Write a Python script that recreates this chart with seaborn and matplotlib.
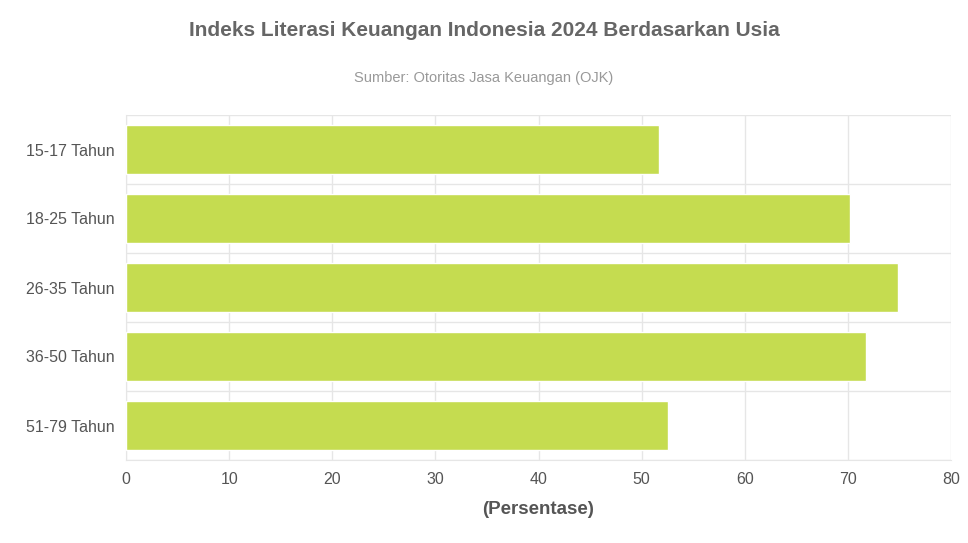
import matplotlib
matplotlib.use("Agg")
import matplotlib.pyplot as plt
import seaborn as sns
import pandas as pd

# data
kelompok_usia = ["15-17 Tahun", "18-25 Tahun", "26-35 Tahun", "36-50 Tahun", "51-79 Tahun"]
indeks = [51.70, 70.19, 74.82, 71.72, 52.51]

df = pd.DataFrame({"usia": kelompok_usia, "indeks": indeks})

sns.set_style("white")
plt.rcParams["font.family"] = ["Liberation Sans", "DejaVu Sans"]

fig = plt.figure(figsize=(9.68, 5.43), dpi=100)
ax = fig.add_axes([126 / 968, 1 - 460 / 543, (951 - 126) / 968, (460 - 115) / 543])

sns.barplot(data=df, x="indeks", y="usia", color="#c5dc50", saturation=1,
            width=0.7, ax=ax, zorder=3)

ax.set_xlim(0, 80)
ax.set_ylim(4.5, -0.5)
ax.set_xticks(range(0, 81, 10))
ax.set_yticks([i - 0.5 for i in range(6)], minor=True)
ax.grid(axis="x", color="#e6e6e6", linewidth=1, zorder=0)
ax.grid(axis="y", which="minor", color="#e6e6e6", linewidth=1, zorder=0)
ax.tick_params(axis="y", which="minor", length=0)
ax.tick_params(axis="both", which="major", labelsize=11.5, colors="#555555", length=5)
ax.tick_params(axis="x", color="#e6e6e6")
ax.tick_params(axis="y", color="#e6e6e6")
for s in ax.spines.values():
    s.set_visible(False)
ax.spines["left"].set_visible(True)
ax.spines["left"].set_color("#e6e6e6")
ax.spines["bottom"].set_visible(True)
ax.spines["bottom"].set_color("#e6e6e6")

ax.set_ylabel("")
ax.set_xlabel("(Persentase)", fontsize=13.5, fontweight="bold", color="#555555", labelpad=10)

fig.text(484 / 968, 1 - 30 / 543, "Indeks Literasi Keuangan Indonesia 2024 Berdasarkan Usia",
         ha="center", va="center", fontsize=15, fontweight="bold", color="#666666")
fig.text(484 / 968, 1 - 78 / 543, "Sumber: Otoritas Jasa Keuangan (OJK)",
         ha="center", va="center", fontsize=10.5, color="#999999")

fig.savefig("out.png", dpi=100)
